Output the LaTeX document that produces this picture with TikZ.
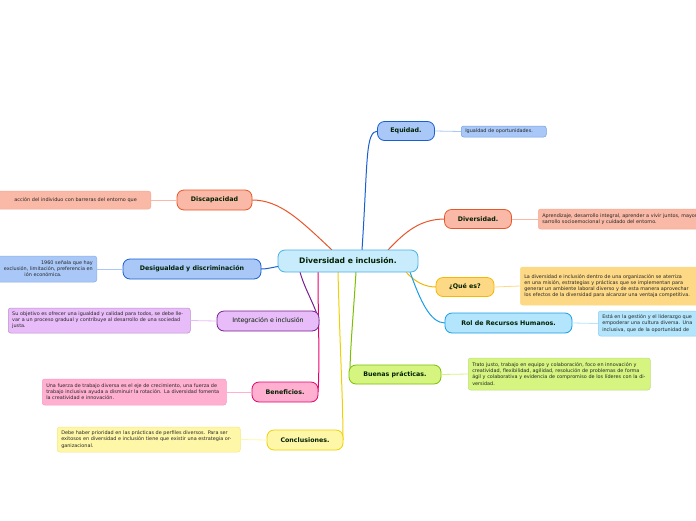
\documentclass[tikz,border=0pt]{standalone}
\usepackage{fontspec}
\setmainfont{DejaVu Sans}
\begin{document}
\begin{tikzpicture}[x=1pt,y=-1pt,
 main/.style={draw,rounded corners=7pt,line width=0.8pt,font=\fontsize{6.3}{7}\selectfont\bfseries,text=black!70!green!40!black,anchor=center,inner sep=0pt},
 leaf/.style={draw,rounded corners=2.5pt,line width=0.5pt,font=\fontsize{4.9}{6.1}\selectfont,text=black!85,align=left,anchor=west,inner xsep=4pt,inner ysep=2pt,text width=#1},
 conn/.style={line width=1pt},
 lk/.style={line width=0.8pt}]
\useasboundingbox (0,0) rectangle (696,520);
\clip (0,0) rectangle (696,520);
\fill[white] (0,0) rectangle (696,520);
\definecolor{cBlue}{HTML}{1A5FD0}\definecolor{fBlue}{HTML}{A9C8F8}
\definecolor{cOr}{HTML}{E8572A}\definecolor{fOr}{HTML}{F9B9A6}
\definecolor{cYe}{HTML}{F5B800}\definecolor{fYe}{HTML}{FDD986}
\definecolor{cCy}{HTML}{1A9EE6}\definecolor{fCy}{HTML}{B3E5FC}
\definecolor{cGr}{HTML}{7CC000}\definecolor{fGr}{HTML}{D5F580}
\definecolor{cLy}{HTML}{F0D000}\definecolor{fLy}{HTML}{FFF7A8}
\definecolor{cPk}{HTML}{E8006C}\definecolor{fPk}{HTML}{FFB0D0}
\definecolor{cPu}{HTML}{7A2090}\definecolor{fPu}{HTML}{E8BCF8}
\definecolor{cCe}{HTML}{4AB0E8}\definecolor{fCe}{HTML}{C8ECFC}

\coordinate (s1) at (362,250);\coordinate (s2) at (388,250);
\coordinate (s3) at (406,272);\coordinate (s4) at (410,272);
\coordinate (s5) at (356,272);\coordinate (s6) at (338,272);
\coordinate (s7) at (318,272);\coordinate (s8) at (300,272);
\coordinate (s9) at (285,266);\coordinate (s10) at (332,250);
\draw[conn,cBlue] (s1) .. controls (368,160) and (365,131) .. (378,131);
\draw[conn,cOr] (s2) .. controls (405,232) and (420,219) .. (445,219);
\draw[conn,cYe] (s3) .. controls (415,282) and (425,287) .. (436,287);
\draw[conn,cCy] (s4) .. controls (420,300) and (430,323) .. (445,323);
\draw[conn,cGr] (s5) .. controls (353,320) and (350,350) .. (350,374);
\draw[conn,cLy] (s6) .. controls (340,350) and (343,400) .. (343,440);
\draw[conn,cPk] (s7) .. controls (318,320) and (320,360) .. (318,392);
\draw[conn,cPu] (s8) .. controls (305,290) and (315,305) .. (319,321);
\draw[conn,cBlue] (s9) .. controls (275,266) and (270,269) .. (261,269);
\draw[conn,cOr] (s10) .. controls (300,220) and (280,200) .. (252,200);

\node[main,fill=fCe,draw=cCe,minimum width=140pt,minimum height=22pt,font=\fontsize{7.6}{8}\selectfont\bfseries] (c) at (348,261) {Diversidad e inclusión.};

\node[main,fill=fBlue,draw=cBlue,minimum width=57pt,minimum height=19pt] (eq) at (406,131) {Equidad.};
\node[leaf=77pt,fill=fBlue,draw=cBlue!60,minimum height=11pt] (eql) at (461,131.5) {\raggedright Igualdad de oportunidades.};
\draw[lk,fBlue] (eq.east) -- (eql.west);

\node[main,fill=fOr,draw=cOr,minimum width=67pt,minimum height=19pt] (dv) at (478,219) {Diversidad.};
\node[leaf=165pt,fill=fOr,draw=cOr!50,minimum height=20pt] (dvl) at (538,219) {\raggedright Aprendizaje, desarrollo integral, aprender a vivir juntos, mayor desarrollo socioemocional y cuidado del entorno.};
\draw[lk,fOr] (dv.east) -- (dvl.west);

\node[main,fill=fYe,draw=cYe,minimum width=58pt,minimum height=19pt] (qe) at (465,287) {¿Qué es?};
\node[leaf=172pt,fill=fYe,draw=cYe!50,minimum height=38pt] (qel) at (520,286) {\raggedright La diversidad e inclusión dentro de una organización se aterriza en una misión, estrategias y prácticas que se implementan para generar un ambiente laboral diverso y de esta manera aprovechar los efectos de la diversidad para alcanzar una ventaja competitiva.};
\draw[lk,fYe] (qe.east) -- (qel.west);

\node[main,fill=fCy,draw=cCy,minimum width=127pt,minimum height=20pt] (rh) at (508.5,323) {Rol de Recursos Humanos.};
\node[leaf=150pt,fill=fCy,draw=cCy!50,minimum height=25pt] (rhl) at (598,323.5) {Está en la gestión y el liderazgo que\\empoderar una cultura diversa. Una\\inclusiva, que de la oportunidad de};
\draw[lk,fCy] (rh.east) -- (rhl.west);

\node[main,fill=fGr,draw=cGr,minimum width=92pt,minimum height=19pt] (bp) at (395,374.5) {Buenas prácticas.};
\node[leaf=174pt,fill=fGr,draw=cGr!50,minimum height=32pt] (bpl) at (468,374) {\raggedright Trato justo, trabajo en equipo y colaboración, foco en innovación y creatividad, flexibilidad, agilidad, resolución de problemas de forma ágil y colaborativa y evidencia de compromiso de los líderes con la diversidad.};
\draw[lk,fGr] (bp.east) -- (bpl.west);

\node[main,fill=fLy,draw=cLy,minimum width=76pt,minimum height=20pt] (co) at (305,440) {Conclusiones.};
\node[leaf=175pt,fill=fLy,draw=cLy!50,minimum height=25pt] (col) at (57,439.5) {\raggedright Debe haber prioridad en las prácticas de perfiles diversos. Para ser exitosos en diversidad e inclusión tiene que existir una estrategia organizacional.};
\draw[lk,fLy] (col.east) -- (co.west);

\node[main,fill=fPk,draw=cPk,minimum width=66pt,minimum height=20pt] (be) at (285,392) {Beneficios.};
\node[leaf=176pt,fill=fPk,draw=cPk!40,minimum height=26pt] (bel) at (42,392) {\raggedright Una fuerza de trabajo diversa es el eje de crecimiento, una fuerza de trabajo inclusiva ayuda a disminuir la rotación. La diversidad fomenta la creatividad e innovación.};
\draw[lk,fPk] (bel.east) -- (be.west);

\node[main,fill=fPu,draw=cPu,minimum width=102pt,minimum height=20pt,font=\fontsize{6.3}{7}\selectfont] (in) at (268,321) {Integración e inclusión};
\node[leaf=174pt,fill=fPu,draw=cPu!50,minimum height=25pt] (inl) at (8,320.5) {\raggedright Su objetivo es ofrecer una igualdad y calidad para todos, se debe llevar a un proceso gradual y contribuye al desarrollo de una sociedad justa.};
\draw[lk,fPu] (inl.east) -- (in.west);

\node[main,fill=fBlue,draw=cBlue,minimum width=138pt,minimum height=20pt] (de) at (192,269) {Desigualdad y discriminación};
\node[leaf=94pt,fill=fBlue,draw=cBlue!50,minimum height=26pt,anchor=east,align=right] (del) at (97,269) {1960 señala que hay\hspace*{22pt}\\exclusión, limitación, preferencia en\\ión económica.\hspace*{31pt}};
\draw[lk,fBlue] (del.east) -- (de.west);

\node[main,fill=fOr,draw=cOr,minimum width=75pt,minimum height=20pt] (di) at (214.5,200) {Discapacidad};
\node[leaf=148pt,fill=fOr,draw=cOr!50,minimum height=18pt,anchor=east] (dil) at (151,200) {\hfill acción del individuo con barreras del entorno que\hspace*{10pt}};
\draw[lk,fOr] (dil.east) -- (di.west);
\end{tikzpicture}
\end{document}
